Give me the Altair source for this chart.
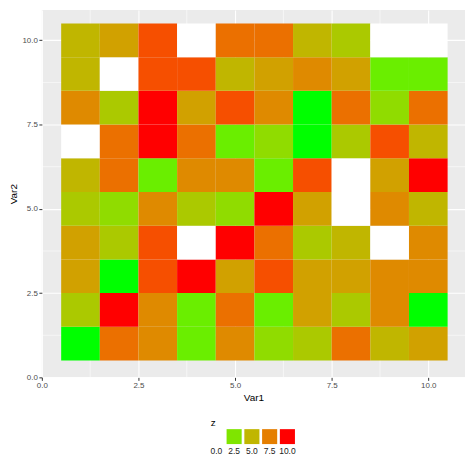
import altair as alt
import pandas as pd

# ---------------- data ----------------
var1 = list(range(1, 11))
var2 = list(range(1, 11))
# z values, one list per Var2 row (bottom row first), entries for Var1 = 1..10
z_rows = [
    [1, 8, 7, 2, 7, 3, 4, 8, 5, 6],     # Var2 = 1
    [4, 10, 7, 2, 8, 2, 6, 4, 7, 1],    # Var2 = 2
    [6, 1, 9, 10, 6, 9, 6, 6, 7, 7],    # Var2 = 3
    [6, 4, 9, 0, 10, 8, 4, 5, 0, 7],    # Var2 = 4
    [4, 3, 7, 4, 3, 10, 6, 0, 7, 5],    # Var2 = 5
    [5, 8, 2, 7, 7, 2, 9, 0, 6, 10],    # Var2 = 6
    [0, 8, 10, 8, 2, 3, 1, 4, 9, 5],    # Var2 = 7
    [7, 4, 10, 6, 9, 7, 1, 8, 3, 8],    # Var2 = 8
    [5, 0, 9, 9, 5, 6, 7, 6, 2, 2],     # Var2 = 9
    [5, 6, 9, 0, 8, 8, 5, 4, 0, 0],     # Var2 = 10
]
axis_ticks = [0.0, 2.5, 5.0, 7.5, 10.0]
minor_ticks = [1.25, 3.75, 6.25, 8.75]
legend_values = [0.0, 2.5, 5.0, 7.5, 10.0]
legend_labels = ["0.0", "2.5", "5.0", "7.5", "10.0"]
legend_title = "z"

rows = []
for j, yv in enumerate(var2):
    for i, xv in enumerate(var1):
        rows.append({"Var1": xv, "Var2": yv, "z": z_rows[j][i],
                     "x0": xv - 0.5, "x1": xv + 0.5, "y0": yv - 0.5, "y1": yv + 0.5})
df = pd.DataFrame(rows)
minor_df = pd.DataFrame({"m": minor_ticks})
leg_df = pd.DataFrame({"value": legend_values, "label": legend_labels})
title_df = pd.DataFrame({"label": [legend_labels[0]], "t": [legend_title]})

# ---------------- styling ----------------
FONT = "Liberation Sans"
W, H = 425, 369
xs = alt.Scale(domain=[0, 10.95], nice=False, zero=False)
ys = alt.Scale(domain=[0, 10.9], nice=False, zero=False)
cs = alt.Scale(domain=[0, 1, 10], range=["#FFFFFF", "#00FF00", "#FF0000"], interpolate="lab")


def mk_axis(title_pad):
    return alt.Axis(values=axis_ticks, format=".1f", grid=True, gridColor="white",
                    gridWidth=1.1, domain=False, tickColor="#333333", tickSize=3,
                    tickWidth=1, labelColor="#4D4D4D", labelFontSize=8, labelFont=FONT,
                    labelFlush=False, labelOverlap=False, labelPadding=1.5,
                    titleFont=FONT, titleFontSize=10, titleFontWeight="normal",
                    titleColor="black", titlePadding=title_pad)


vminor = alt.Chart(minor_df).mark_rule(color="white", strokeWidth=0.55).encode(
    x=alt.X("m:Q", scale=xs, title="Var1", axis=mk_axis(3)))
hminor = alt.Chart(minor_df).mark_rule(color="white", strokeWidth=0.55).encode(
    y=alt.Y("m:Q", scale=ys, title="Var2", axis=mk_axis(3)))

tiles = alt.Chart(df).mark_rect(strokeWidth=0).encode(
    x=alt.X("x0:Q", scale=xs, title="Var1", axis=mk_axis(3)),
    x2="x1:Q",
    y=alt.Y("y0:Q", scale=ys, title="Var2", axis=mk_axis(3)),
    y2="y1:Q",
    color=alt.Color("z:Q", scale=cs, legend=None),
)

main = alt.layer(vminor, hminor, tiles).properties(
    width=W, height=H, view=alt.ViewBackground(fill="#EBEBEB", stroke=None))

# ---------------- manual legend ----------------
lx = alt.Scale(domain=legend_labels, range=[167.7, 254.2], paddingInner=0.15, paddingOuter=0)
keys = alt.Chart(leg_df).mark_rect(strokeWidth=0).encode(
    x=alt.X("label:N", sort=legend_labels, scale=lx, axis=None),
    y=alt.value(12), y2=alt.value(27),
    color=alt.Color("value:Q", scale=cs, legend=None),
)
labels = alt.Chart(leg_df).mark_text(font=FONT, fontSize=8.5, color="#222222",
                                     baseline="top", align="center").encode(
    x=alt.X("label:N", sort=legend_labels, scale=lx, axis=None),
    y=alt.value(30),
    text="label:N",
)
ltitle = alt.Chart(title_df).mark_text(font=FONT, fontSize=10, color="black",
                                       baseline="middle", align="left", dx=2).encode(
    x=alt.X("label:N", sort=legend_labels, scale=lx, axis=None, bandPosition=0),
    y=alt.value(6),
    text="t:N",
)
legend = alt.layer(keys, labels, ltitle).properties(
    width=W, height=38, view=alt.ViewBackground(fill=None, stroke=None))

chart = alt.vconcat(main, legend, spacing=14).properties(
    padding={"left": 0, "top": 0, "right": 0, "bottom": 0}
).configure_view(stroke=None).configure(background="white")

chart.save("out.html", embed_options={"renderer": "svg", "actions": False})
